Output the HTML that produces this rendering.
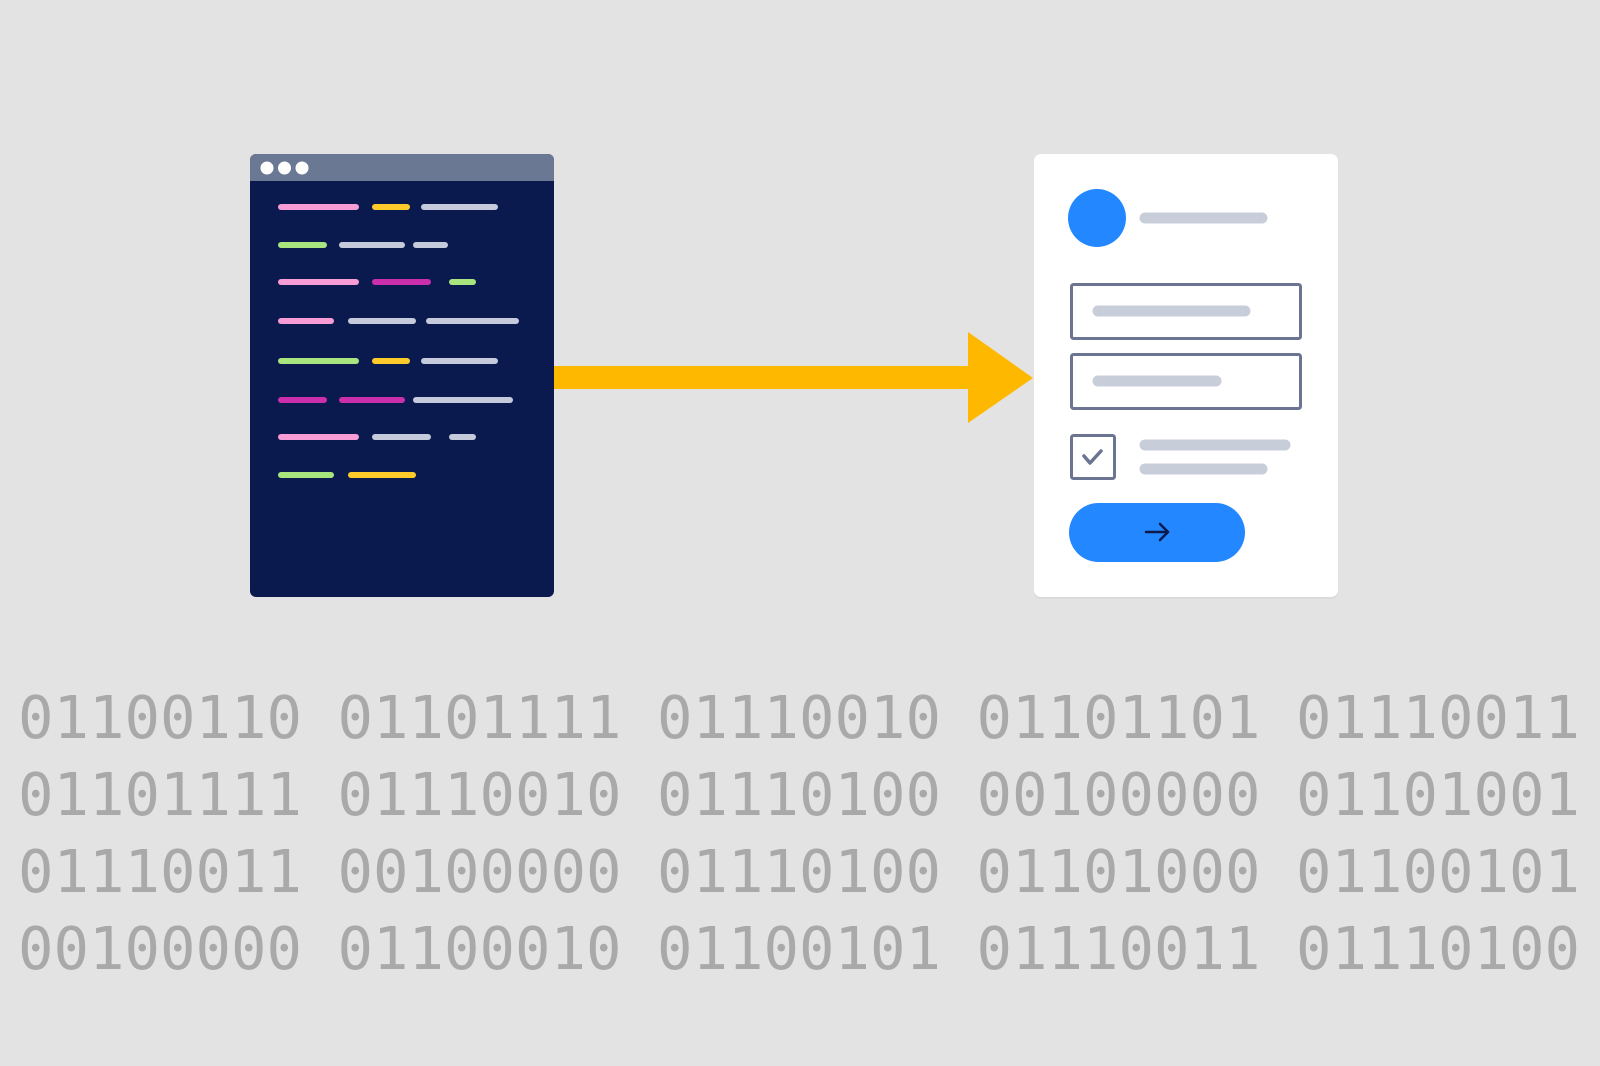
<!DOCTYPE html>
<html><head><meta charset="utf-8"><style>
html,body{margin:0;padding:0;background:#e3e3e3;width:1600px;height:1066px;overflow:hidden}
</style></head><body>
<svg width="1600" height="1066" viewBox="0 0 1600 1066" xmlns="http://www.w3.org/2000/svg">
<rect width="1600" height="1066" fill="#e3e3e3"/>
<!-- code window -->
<rect x="250" y="154" width="304" height="443" rx="6" fill="#0a1a4e"/>
<path d="M250 181 V160 a6 6 0 0 1 6 -6 H548 a6 6 0 0 1 6 6 V181 Z" fill="#6b7894"/>
<circle cx="267" cy="168" r="6.5" fill="#fff"/>
<circle cx="284.5" cy="168" r="6.5" fill="#fff"/>
<circle cx="302" cy="168" r="6.5" fill="#fff"/>
<g stroke-width="6" stroke-linecap="round">
<line x1="281" y1="207" x2="356" y2="207" stroke="#f79cd5"/>
<line x1="375" y1="207" x2="407" y2="207" stroke="#ffcb2b"/>
<line x1="424" y1="207" x2="495" y2="207" stroke="#c5cbdb"/>

<line x1="281" y1="245" x2="324" y2="245" stroke="#a8e57e"/>
<line x1="342" y1="245" x2="402" y2="245" stroke="#c5cbdb"/>
<line x1="416" y1="245" x2="445" y2="245" stroke="#c5cbdb"/>

<line x1="281" y1="282" x2="356" y2="282" stroke="#f79cd5"/>
<line x1="375" y1="282" x2="428" y2="282" stroke="#cc2fac"/>
<line x1="452" y1="282" x2="473" y2="282" stroke="#a8e57e"/>

<line x1="281" y1="321" x2="331" y2="321" stroke="#f79cd5"/>
<line x1="351" y1="321" x2="413" y2="321" stroke="#c5cbdb"/>
<line x1="429" y1="321" x2="516" y2="321" stroke="#c5cbdb"/>

<line x1="281" y1="361" x2="356" y2="361" stroke="#a8e57e"/>
<line x1="375" y1="361" x2="407" y2="361" stroke="#ffcb2b"/>
<line x1="424" y1="361" x2="495" y2="361" stroke="#c5cbdb"/>

<line x1="281" y1="400" x2="324" y2="400" stroke="#cc2fac"/>
<line x1="342" y1="400" x2="402" y2="400" stroke="#cc2fac"/>
<line x1="416" y1="400" x2="510" y2="400" stroke="#c5cbdb"/>

<line x1="281" y1="437" x2="356" y2="437" stroke="#f79cd5"/>
<line x1="375" y1="437" x2="428" y2="437" stroke="#c5cbdb"/>
<line x1="452" y1="437" x2="473" y2="437" stroke="#c5cbdb"/>

<line x1="281" y1="475" x2="331" y2="475" stroke="#a8e57e"/>
<line x1="351" y1="475" x2="413" y2="475" stroke="#ffcb2b"/>
</g>
<!-- arrow -->
<rect x="554" y="366" width="416" height="23" fill="#ffb800"/>
<polygon points="968,332 1033,378 968,423" fill="#ffb800"/>
<!-- card -->
<rect x="1034" y="156" width="304" height="443" rx="7" fill="#000" opacity="0.04"/>
<rect x="1034" y="154" width="304" height="443" rx="7" fill="#fff"/>
<circle cx="1097" cy="218" r="29" fill="#2388ff"/>
<g stroke="#c7cdd9" stroke-width="11" stroke-linecap="round">
<line x1="1145" y1="218" x2="1262" y2="218"/>
<line x1="1098" y1="311" x2="1245" y2="311"/>
<line x1="1098" y1="381" x2="1216" y2="381"/>
<line x1="1145" y1="445" x2="1285" y2="445"/>
<line x1="1145" y1="469" x2="1262" y2="469"/>
</g>
<rect x="1071.5" y="284.5" width="229" height="54" rx="2" fill="none" stroke="#6b7591" stroke-width="3"/>
<rect x="1071.5" y="354.5" width="229" height="54" rx="2" fill="none" stroke="#6b7591" stroke-width="3"/>
<rect x="1071.5" y="435.5" width="43" height="43" rx="2" fill="none" stroke="#6b7591" stroke-width="3"/>
<polyline points="1084,456 1090,463 1101,451" fill="none" stroke="#6b7591" stroke-width="3.5" stroke-linecap="round" stroke-linejoin="round"/>
<rect x="1069" y="503" width="176" height="59" rx="29.5" fill="#2388ff"/>
<g stroke="#0a1a4e" stroke-width="2.5" fill="none" stroke-linecap="round" stroke-linejoin="round">
<line x1="1146" y1="532" x2="1168" y2="532"/>
<polyline points="1160,524 1168,532 1160,540"/>
</g>
<!-- binary -->
<g font-family="'DejaVu Sans Mono', 'Liberation Mono', monospace" font-size="59" fill="#a9a9a9">
<text x="18" y="738" textLength="1562" lengthAdjust="spacingAndGlyphs" xml:space="preserve">01100110 01101111 01110010 01101101 01110011</text>
<text x="18" y="815" textLength="1562" lengthAdjust="spacingAndGlyphs" xml:space="preserve">01101111 01110010 01110100 00100000 01101001</text>
<text x="18" y="892" textLength="1562" lengthAdjust="spacingAndGlyphs" xml:space="preserve">01110011 00100000 01110100 01101000 01100101</text>
<text x="18" y="969" textLength="1562" lengthAdjust="spacingAndGlyphs" xml:space="preserve">00100000 01100010 01100101 01110011 01110100</text>
</g>
</svg>
</body></html>
